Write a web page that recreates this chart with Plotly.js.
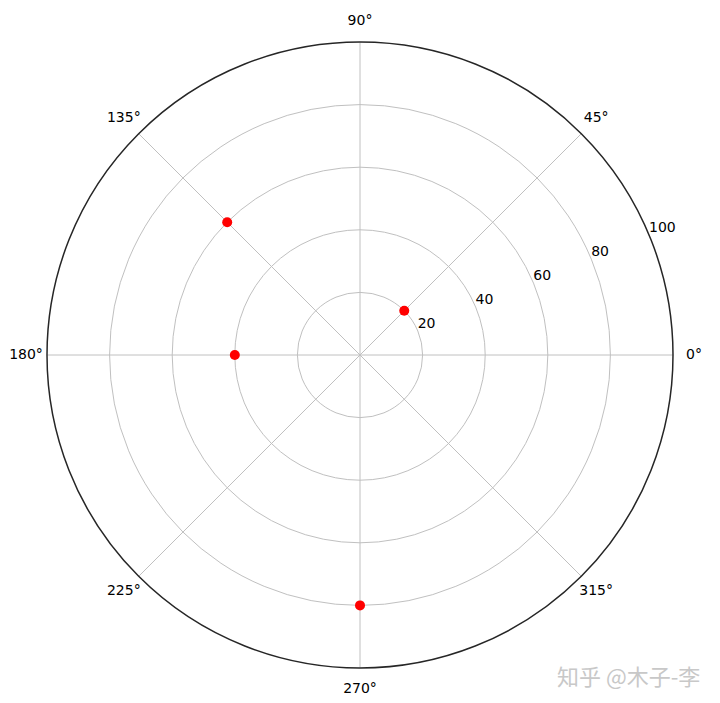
<!DOCTYPE html>
<html>
<head>
<meta charset="utf-8">
<script src="https://cdn.plot.ly/plotly-3.0.1.min.js"></script>
<style>html,body{margin:0;padding:0;background:#fff;}#chart{width:720px;height:703px;}</style>
</head>
<body>
<div id="chart"></div>
<script>
const thetaDeg = [45, 135, 180, 270];
const radius = [20, 60, 40, 80];
const radialTicks = [20, 40, 60, 80, 100];
const angularTicks = [0, 45, 90, 135, 180, 225, 270, 315];
const angularLabels = ['0°', '45°', '90°', '135°', '180°', '225°', '270°', '315°'];

const W = 720, H = 703;
const CX = 360, CY = 355, R = 313;      // main plot circle (px)
const RL = 334;                         // radius at which angular labels are centred (px)
const RMAX = radialTicks[radialTicks.length - 1];

function dom(cx, cy, r) {
  return {x: [(cx - r) / W, (cx + r) / W], y: [(H - cy - r) / H, (H - cy + r) / H]};
}

const FONT = {family: 'DejaVu Sans, sans-serif', size: 14, color: '#000'};

const hiddenAngular = {visible: false, direction: 'counterclockwise', rotation: 0};

const traces = [
  {
    type: 'scatterpolar', mode: 'markers', subplot: 'polar',
    r: radius, theta: thetaDeg,
    marker: {color: '#ff0000', size: 10}
  },
  {
    // invisible copy so the radial-label overlay exists
    type: 'scatterpolar', mode: 'markers', subplot: 'polar2',
    r: radius, theta: thetaDeg,
    marker: {opacity: 0, size: 1}
  },
  {
    // angular tick labels, centred on a circle just outside the plot
    type: 'scatterpolar', mode: 'text', subplot: 'polar3',
    r: angularTicks.map(() => RMAX), theta: angularTicks,
    text: angularLabels, textposition: 'middle center',
    textfont: FONT, cliponaxis: false
  }
];

const layout = {
  width: W, height: H,
  margin: {l: 0, r: 0, t: 0, b: 0},
  paper_bgcolor: '#ffffff',
  showlegend: false,
  font: FONT,
  polar: {
    domain: dom(CX, CY, R),
    bgcolor: '#ffffff',
    radialaxis: {
      range: [0, RMAX], tickvals: radialTicks, angle: 22.5,
      showline: false, showticklabels: false, ticks: '',
      gridcolor: '#c0c0c0', gridwidth: 1
    },
    angularaxis: {
      tickvals: angularTicks, direction: 'counterclockwise', rotation: 0,
      showline: true, linecolor: '#262626', linewidth: 1.5,
      showticklabels: false, ticks: '',
      gridcolor: '#c0c0c0', gridwidth: 1
    }
  },
  polar2: {
    // same scale, offset so that labels sit just outside each ring
    domain: dom(CX - 3, CY - 17, R),
    bgcolor: 'rgba(0,0,0,0)',
    radialaxis: {
      range: [0, RMAX], tickvals: radialTicks, angle: 22.5, tickangle: 22.5,
      side: 'clockwise', showline: false, showgrid: false, ticks: '',
      tickfont: FONT
    },
    angularaxis: hiddenAngular
  },
  polar3: {
    domain: dom(CX, CY, RL),
    bgcolor: 'rgba(0,0,0,0)',
    radialaxis: {visible: false, range: [0, RMAX]},
    angularaxis: hiddenAngular
  },
  annotations: [{
    text: '知乎 @木子-李',
    xref: 'paper', yref: 'paper',
    x: 702 / W, y: 28 / H, xanchor: 'right', yanchor: 'middle',
    showarrow: false,
    font: {family: 'Noto Sans CJK SC, sans-serif', size: 22, color: '#c8c8c8'}
  }]
};

Plotly.newPlot('chart', traces, layout, {displayModeBar: false, staticPlot: true});
</script>
</body>
</html>
